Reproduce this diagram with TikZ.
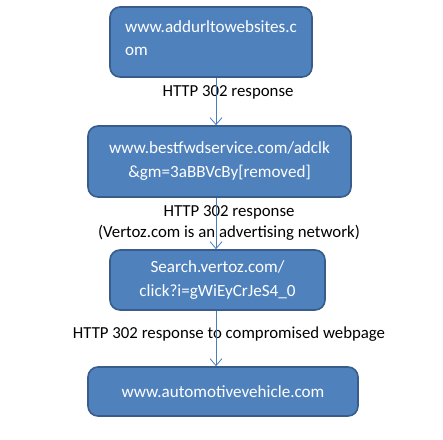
\documentclass[tikz,border=0pt]{standalone}
\usepackage{fontspec}
\setmainfont{Carlito}
\usetikzlibrary{arrows.meta}
\definecolor{boxfill}{HTML}{4F81BD}
\definecolor{boxline}{HTML}{385D8A}
\definecolor{arrline}{HTML}{4A7EBB}
\tikzset{
	urlbox/.style={draw=boxline, line width=1.6pt, fill=boxfill, rounded corners=10pt, text=white, font=\fontsize{17.1}{24}\selectfont, inner sep=0pt},
	urltext/.style={text=white, font=\fontsize{17.1}{23}\selectfont, inner sep=0pt},
	hop/.style={draw=arrline, line width=0.8pt, -{Straight Barb[length=7pt,width=12pt,line width=0.8pt]}},
	hoplabel/.style={font=\fontsize{16.8}{20.5}\selectfont, align=center, inner sep=0pt}
}
\begin{document}
\begin{tikzpicture}[x=1pt,y=-1pt]
					\useasboundingbox (0,0) rectangle (443,439);
					\node [urlbox, minimum width=202pt, minimum height=70pt] (B1) at (211,42) {};
					\node [urltext, text width=172pt, align=left] (B1t) at (211,38) {www.addurltowebsites.c\\om};
					\node [urlbox, minimum width=263pt, minimum height=71pt, align=center] (B2) at (219.5,161.5) {www.bestfwdservice.com/adclk\\\&gm=3aBBVcBy[removed]};
					\node [urlbox, minimum width=215pt, minimum height=60pt, align=center] (B3) at (217.5,280) {Search.vertoz.com/\\click?i=gWiEyCrJeS4\_0};
					\node [urlbox, minimum width=270pt, minimum height=49pt] (B4) at (223,391.5) {www.automotivevehicle.com};
					\coordinate (axis) at (216,0);
					\node [hoplabel] (L1) at (228,92) {HTTP 302 response};
					\node [hoplabel] (L2) at (229,223) {HTTP 302 response\\(Vertoz.com is an advertising network)};
					\node [hoplabel] (L3) at (229,334) {HTTP 302 response to compromised webpage};
					\draw [hop] (B1.south -| axis) -- (B2.north -| axis);
					\draw [hop] (B2.south -| axis) -- (B3.north -| axis);
					\draw [hop] (B3.south -| axis) -- (B4.north -| axis);
\end{tikzpicture}
\end{document}
